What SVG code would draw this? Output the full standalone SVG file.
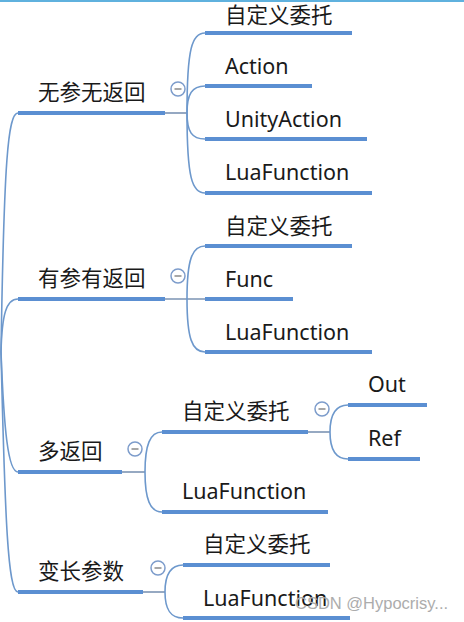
<svg xmlns="http://www.w3.org/2000/svg" width="464" height="622" viewBox="0 0 464 622">
<style>
.t{font-family:"Noto Sans","Noto Sans CJK SC",sans-serif;font-size:21.5px;fill:#1a1a1a}
.u{stroke:#5b8fd2;stroke-width:4;fill:none}
.c{stroke:#6d98cc;stroke-width:1.6;fill:none}
.l{stroke:#7b93b3;stroke-width:1.6;fill:none}
.k{fill:#fff;stroke:#7d9ccb;stroke-width:1.5}
.m{stroke:#8a8a8a;stroke-width:1.5}
.w{font-family:"Liberation Sans",sans-serif;font-size:16.5px;fill:#acacac}
</style>
<rect x="0" y="0" width="464" height="622" fill="#fff"/>
<line x1="0" y1="1" x2="464" y2="1" stroke="#5fb1de" stroke-width="2"/>
<g id="connectors">
<path class="c" d="M1,352 C4,160 8,113 18,113"/>
<path class="c" d="M1,352 C2,315 6,299 18,299"/>
<path class="c" d="M1,352 C4,430 8,472 18,472"/>
<path class="c" d="M1,352 C5,520 8,592 18,592"/>
<line class="l" x1="165" y1="113" x2="187" y2="113"/>
<path class="c" d="M187,113 C187,48 192,33 205,33"/>
<path class="c" d="M187,113 C187,94 192,86 205,86"/>
<path class="c" d="M187,113 C187,132 192,139 205,139"/>
<path class="c" d="M187,113 C187,178 192,193 205,193"/>
<line class="l" x1="165" y1="299" x2="205" y2="299"/>
<path class="c" d="M187,299 C187,260 192,246 205,246"/>
<path class="c" d="M187,299 C187,338 192,352 205,352"/>
<line class="l" x1="122" y1="472" x2="145" y2="472"/>
<path class="c" d="M145,472 C145,445 150,432 162,432"/>
<path class="c" d="M145,472 C145,499 150,512 162,512"/>
<line class="l" x1="308" y1="432" x2="330" y2="432"/>
<path class="c" d="M330,432 C330,415 336,405 348,405"/>
<path class="c" d="M330,432 C330,449 336,459 348,459"/>
<line class="l" x1="143" y1="592" x2="165" y2="592"/>
<path class="c" d="M165,592 C165,575 170,565 183,565"/>
<path class="c" d="M165,592 C165,609 170,618 183,618"/>
</g>
<g id="n1"><text class="t" x="38" y="100">无参无返回</text><line class="u" x1="18" y1="113" x2="165" y2="113"/><circle class="k" cx="178" cy="89" r="7"/><line class="m" x1="174.5" y1="89" x2="181.5" y2="89"/></g>
<g id="n1a"><text class="t" x="225" y="23">自定义委托</text><line class="u" x1="205" y1="33" x2="352" y2="33"/></g>
<g id="n1b"><text class="t" x="225" y="74">Action</text><line class="u" x1="205" y1="86" x2="312" y2="86"/></g>
<g id="n1c"><text class="t" x="225" y="127">UnityAction</text><line class="u" x1="205" y1="139" x2="367" y2="139"/></g>
<g id="n1d"><text class="t" x="225" y="180">LuaFunction</text><line class="u" x1="205" y1="193" x2="372" y2="193"/></g>
<g id="n2"><text class="t" x="38" y="286">有参有返回</text><line class="u" x1="18" y1="299" x2="165" y2="299"/><circle class="k" cx="178" cy="276" r="7"/><line class="m" x1="174.5" y1="276" x2="181.5" y2="276"/></g>
<g id="n2a"><text class="t" x="225" y="234">自定义委托</text><line class="u" x1="205" y1="246" x2="352" y2="246"/></g>
<g id="n2b"><text class="t" x="225" y="287">Func</text><line class="u" x1="205" y1="299" x2="293" y2="299"/></g>
<g id="n2c"><text class="t" x="225" y="340">LuaFunction</text><line class="u" x1="205" y1="352" x2="372" y2="352"/></g>
<g id="n3"><text class="t" x="38" y="459">多返回</text><line class="u" x1="18" y1="472" x2="122" y2="472"/><circle class="k" cx="135" cy="449" r="7"/><line class="m" x1="131.5" y1="449" x2="138.5" y2="449"/></g>
<g id="n3a"><text class="t" x="182" y="419">自定义委托</text><line class="u" x1="162" y1="432" x2="308" y2="432"/><circle class="k" cx="322" cy="409" r="7"/><line class="m" x1="318.5" y1="409" x2="325.5" y2="409"/></g>
<g id="n3a1"><text class="t" x="368" y="392">Out</text><line class="u" x1="348" y1="405" x2="427" y2="405"/></g>
<g id="n3a2"><text class="t" x="368" y="446">Ref</text><line class="u" x1="348" y1="459" x2="420" y2="459"/></g>
<g id="n3b"><text class="t" x="182" y="499">LuaFunction</text><line class="u" x1="162" y1="512" x2="328" y2="512"/></g>
<g id="n4"><text class="t" x="38" y="579">变长参数</text><line class="u" x1="18" y1="592" x2="143" y2="592"/><circle class="k" cx="158" cy="568" r="7"/><line class="m" x1="154.5" y1="568" x2="161.5" y2="568"/></g>
<g id="n4a"><text class="t" x="203" y="552">自定义委托</text><line class="u" x1="183" y1="565" x2="330" y2="565"/></g>
<g id="n4b"><text class="t" x="203" y="606">LuaFunction</text><line class="u" x1="183" y1="618" x2="350" y2="618"/></g>
<text class="w" x="295" y="609">CSDN @Hypocrisy...</text>
</svg>
